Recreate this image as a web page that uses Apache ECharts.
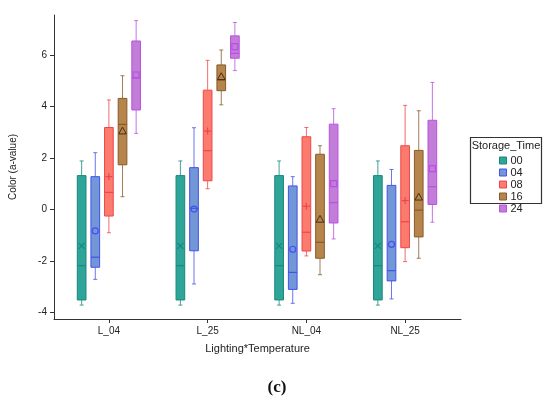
<!DOCTYPE html>
<html>
<head>
<meta charset="utf-8">
<script src="https://cdn.jsdelivr.net/npm/echarts@6/dist/echarts.min.js"></script>
<style>html,body{margin:0;padding:0;background:#fff}#c{width:550px;height:407px}</style>
</head>
<body>
<div id="c"></div>
<script>
const categories = ['L_04', 'L_25', 'NL_04', 'NL_25'];
const storageTimes = ['00', '04', '08', '16', '24'];
const yTicks = [-4, -2, 0, 2, 4, 6];
// per category: [whiskerLow, Q1, median, Q3, whiskerHigh, mean]
const t00 = [[-3.72, -3.52, -2.19, 1.31, 1.88, -1.42], [-3.72, -3.52, -2.19, 1.31, 1.88, -1.42], [-3.72, -3.52, -2.19, 1.31, 1.88, -1.42], [-3.72, -3.52, -2.19, 1.31, 1.88, -1.42]];
const t04 = [[-2.72, -2.25, -1.86, 1.27, 2.20, -0.84], [-2.90, -1.61, 0.04, 1.62, 3.17, 0.01], [-3.65, -3.11, -2.45, 0.91, 1.27, -1.55], [-3.48, -2.78, -2.38, 0.93, 1.55, -1.36]];
const t08 = [[-0.91, -0.26, 0.66, 3.18, 4.25, 1.27], [0.80, 1.11, 2.28, 4.63, 5.79, 3.04], [-1.81, -1.62, -0.89, 2.82, 3.18, 0.12], [-2.03, -1.49, -0.48, 2.47, 4.04, 0.34]];
const t16 = [[0.49, 1.73, 3.30, 4.31, 5.19, 3.04], [4.06, 4.61, 5.02, 5.61, 6.19, 5.15], [-2.54, -1.90, -1.28, 2.14, 2.47, -0.39], [-1.90, -1.07, -0.03, 2.29, 3.83, 0.47]];
const t24 = [[2.95, 3.86, 5.11, 6.54, 7.33, 5.22], [5.39, 5.87, 6.06, 6.74, 7.26, 6.32], [-1.15, -0.53, 0.26, 3.31, 3.91, 1.00], [-0.50, 0.19, 0.88, 3.46, 4.93, 1.58]];
const seriesData = [t00, t04, t08, t16, t24];

const fills = ['#2fa59a', '#7197d6', '#fb7b6e', '#b5854b', '#c27dd8'];
const edges = ['#17897d', '#4650ec', '#f0464a', '#8a5a2a', '#b950e2'];
const markers = ['x', 'circle', 'plus', 'triangle', 'square'];

const chart = echarts.init(document.getElementById('c'), null, {renderer: 'canvas'});

function renderItem(params, api) {
  const si = params.seriesIndex;
  const ci = api.value(0);
  const x = ci + (si - 2) * 0.138;
  const yv = [1, 2, 3, 4, 5, 6].map(i => api.coord([x, api.value(i)])[1]);
  const cx = api.coord([x, 0])[0];
  const hw = api.size([0.088, 0])[0] / 2;
  const [yWL, yQ1, yMed, yQ3, yWH, yMean] = yv;
  const edge = edges[si], fill = fills[si];
  const wStyle = {stroke: edge, lineWidth: 1, opacity: 0.8};
  const children = [
    {type: 'line', shape: {x1: cx, y1: yQ3, x2: cx, y2: yWH}, style: wStyle},
    {type: 'line', shape: {x1: cx - 2, y1: yWH, x2: cx + 2, y2: yWH}, style: wStyle},
    {type: 'line', shape: {x1: cx, y1: yQ1, x2: cx, y2: yWL}, style: wStyle},
    {type: 'line', shape: {x1: cx - 2, y1: yWL, x2: cx + 2, y2: yWL}, style: wStyle},
    {type: 'rect', shape: {x: cx - hw, y: yQ3, width: 2 * hw, height: yQ1 - yQ3}, style: {fill: fill, stroke: edge, lineWidth: 1}},
    {type: 'line', shape: {x1: cx - hw, y1: yMed, x2: cx + hw, y2: yMed}, style: {stroke: edge, lineWidth: 1.2}}
  ];
  const mStyle = {stroke: edge, lineWidth: 1.2, fill: 'none'};
  const m = markers[si];
  if (m === 'x') {
    children.push({type: 'line', shape: {x1: cx - 3, y1: yMean - 3, x2: cx + 3, y2: yMean + 3}, style: mStyle});
    children.push({type: 'line', shape: {x1: cx - 3, y1: yMean + 3, x2: cx + 3, y2: yMean - 3}, style: mStyle});
  } else if (m === 'circle') {
    children.push({type: 'circle', shape: {cx: cx, cy: yMean, r: 3}, style: mStyle});
  } else if (m === 'plus') {
    children.push({type: 'line', shape: {x1: cx - 3.5, y1: yMean, x2: cx + 3.5, y2: yMean}, style: mStyle});
    children.push({type: 'line', shape: {x1: cx, y1: yMean - 3.5, x2: cx, y2: yMean + 3.5}, style: mStyle});
  } else if (m === 'triangle') {
    children.push({type: 'polygon', shape: {points: [[cx, yMean - 4], [cx - 3.8, yMean + 2.8], [cx + 3.8, yMean + 2.8]]}, style: {stroke: '#4a2c10', lineWidth: 1, fill: 'none'}});
  } else {
    children.push({type: 'rect', shape: {x: cx - 3, y: yMean - 3, width: 6, height: 6}, style: mStyle});
  }
  return {type: 'group', children: children};
}

const series = storageTimes.map((name, si) => ({
  name: name,
  type: 'custom',
  renderItem: renderItem,
  itemStyle: {color: fills[si], borderColor: edges[si], borderWidth: 1},
  encode: {x: 0, y: [1, 2, 3, 4, 5]},
  data: seriesData[si].map((v, ci) => [ci].concat(v))
}));

chart.setOption({
  animation: false,
  textStyle: {fontFamily: 'Liberation Sans, Arial, sans-serif'},
  grid: {left: 53, right: 89, top: 15, bottom: 88},
  xAxis: {
    type: 'value', min: -0.556, max: 3.566,
    name: 'Lighting*Temperature', nameLocation: 'middle', nameGap: 24,
    nameTextStyle: {fontSize: 11, color: '#222'},
    axisLine: {show: true, onZero: false, lineStyle: {color: '#333', width: 1}},
    axisTick: {show: true, length: 4, customValues: [0, 1, 2, 3], lineStyle: {color: '#333'}},
    axisLabel: {customValues: [0, 1, 2, 3], formatter: v => categories[Math.round(v)], fontSize: 10, color: '#222', margin: 7},
    splitLine: {show: false}
  },
  yAxis: {
    type: 'value', min: -4.26, max: 7.55,
    name: 'Color (a-value)', nameLocation: 'middle', nameGap: 36,
    nameTextStyle: {fontSize: 10, color: '#222'},
    axisLine: {show: true, onZero: false, lineStyle: {color: '#333', width: 1}},
    axisTick: {show: true, length: 4, customValues: yTicks, lineStyle: {color: '#333'}},
    axisLabel: {customValues: yTicks, fontSize: 10, color: '#222', margin: 7},
    splitLine: {show: false}
  },
  legend: {
    orient: 'vertical', left: 494, top: 150,
    icon: 'rect', itemWidth: 7, itemHeight: 7, itemGap: 1,
    textStyle: {fontSize: 11, color: '#222', lineHeight: 10, padding: [0, 0, 0, -1]},
    data: storageTimes.map((n, i) => ({name: n, itemStyle: {color: fills[i], borderColor: edges[i], borderWidth: 1}}))
  },
  graphic: [
    {type: 'rect', shape: {x: 470.5, y: 137.5, width: 71, height: 66}, style: {fill: 'none', stroke: '#333', lineWidth: 1.2}},
    {type: 'text', x: 506, y: 145.5, style: {text: 'Storage_Time', fontSize: 11, fill: '#222', align: 'center', verticalAlign: 'middle', fontFamily: 'Liberation Sans, Arial, sans-serif'}},
    {type: 'text', x: 277, y: 388, style: {text: '(c)', fontSize: 17, fontWeight: 'bold', fill: '#111', align: 'center', verticalAlign: 'middle', fontFamily: 'Liberation Serif, Times New Roman, serif'}}
  ],
  series: series
});
</script>
</body>
</html>
